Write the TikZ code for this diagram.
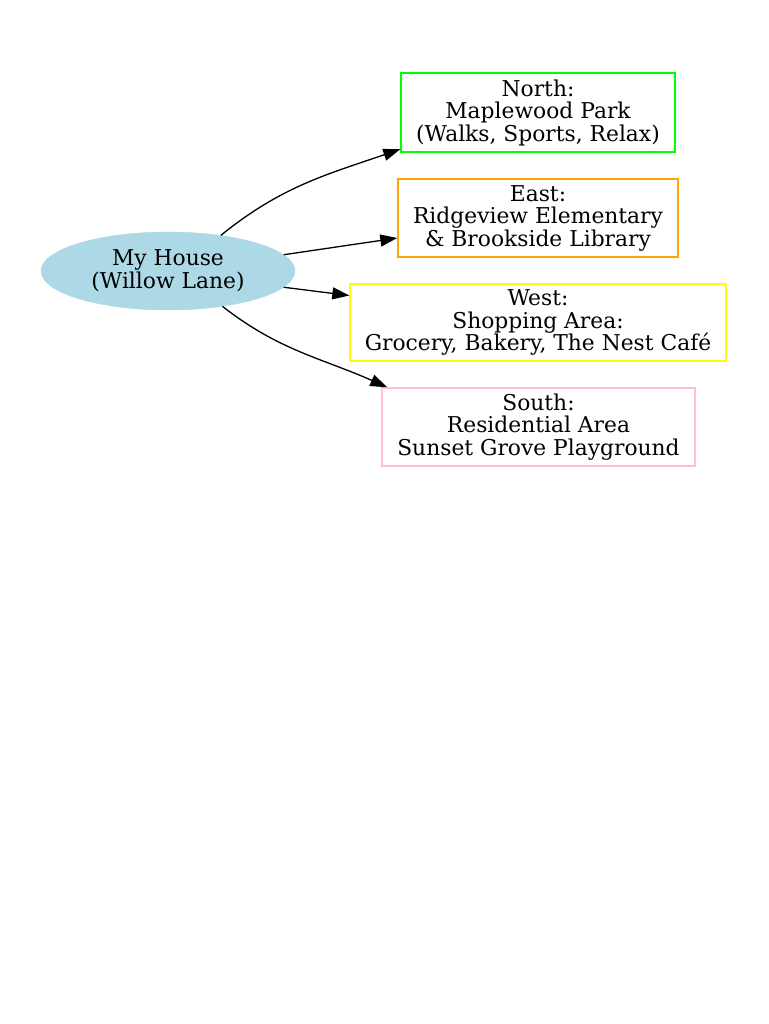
\documentclass[tikz,border=0pt]{standalone}
\usepackage{fontspec}
\setmainfont{DejaVu Serif}
\usetikzlibrary{arrows.meta,shapes.geometric,calc}
\definecolor{houseblue}{HTML}{ADD8E6}
\definecolor{gvgreen}{HTML}{00FF00}
\definecolor{gvorange}{HTML}{FFA500}
\definecolor{gvyellow}{HTML}{FFFF00}
\definecolor{gvpink}{HTML}{FFC0CB}
\begin{document}
\begin{tikzpicture}[x=1pt,y=1pt,
  place/.style={draw, line width=1.4pt, rectangle, inner sep=0pt, align=center,
    font=\fontsize{21.8}{22.5}\selectfont},
  home/.style={ellipse, fill=houseblue, draw=houseblue, inner sep=0pt, align=center,
    font=\fontsize{21.8}{22.5}\selectfont},
  link/.style={line width=1.3pt, -{Triangle[length=17pt,width=12pt]}}]
\useasboundingbox (0,0) rectangle (768,-1024);
\fill[white] (0,0) rectangle (768,-1024);

\node[home, minimum width=254pt, minimum height=78pt] (h) at (168,-271) {My House\\(Willow Lane)};
\node[place, draw=gvgreen, minimum width=274pt, minimum height=79pt] (n) at (538,-112.5) {North:\\Maplewood Park\\(Walks, Sports, Relax)};
\node[place, draw=gvorange, minimum width=280pt, minimum height=78pt] (e) at (538,-218) {East:\\Ridgeview Elementary\\\& Brookside Library};
\node[place, draw=gvyellow, minimum width=376pt, minimum height=77pt] (w) at (538,-322.5) {West:\\Shopping Area:\\Grocery, Bakery, The Nest Café};
\node[place, draw=gvpink, minimum width=313pt, minimum height=78pt] (s) at (538.5,-427) {South:\\Residential Area\\Sunset Grove Playground};

\draw[link] (h.34) to[out=39,in=199] ($(n.south west)+(0,3.5)$);
\draw[link] (h.8) -- ($(e.west)+(0,-20)$);
\draw[link] (h.-8) -- ($(w.west)+(0,27)$);
\draw[link] (h.-33) to[out=-38,in=156] ($(s.north west)+(6,0)$);
\end{tikzpicture}
\end{document}
